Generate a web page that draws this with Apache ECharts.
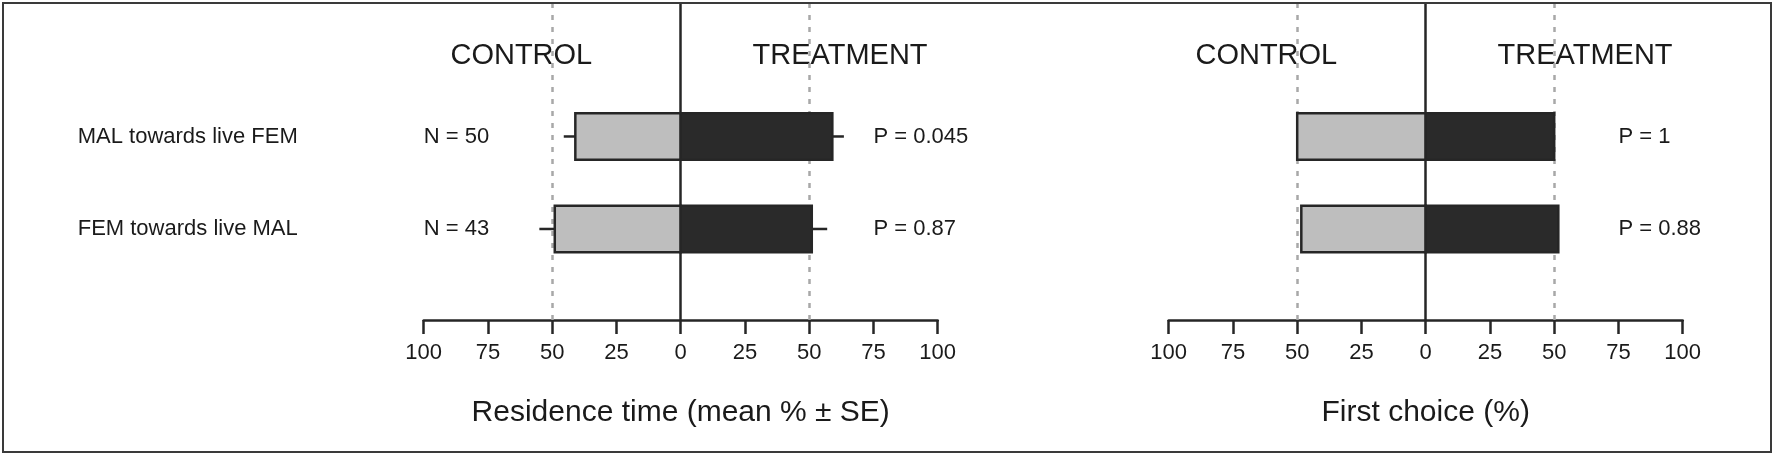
<!DOCTYPE html>
<html><head><meta charset="utf-8">
<script src="https://cdn.jsdelivr.net/npm/echarts@6/dist/echarts.min.js"></script>
<style>html,body{margin:0;padding:0;background:#fff}#c{width:1775px;height:456px}</style>
</head><body><div id="c"></div>
<script>
const rows = ['MAL towards live FEM', 'FEM towards live MAL'];
const nLabels = ['N = 50', 'N = 43'];
const residenceControl = [41, 49];
const residenceTreatment = [59, 51];
const residenceControlSE = [4.5, 6];
const residenceTreatmentSE = [4.5, 6];
const residenceP = ['P = 0.045', 'P = 0.87'];
const choiceControl = [50, 48.4];
const choiceTreatment = [50, 51.6];
const choiceP = ['P = 1', 'P = 0.88'];
const axisTicks = [-100, -75, -50, -25, 0, 25, 50, 75, 100];
const sideTitles = ['CONTROL', 'TREATMENT'];
const axisTitles = ['Residence time (mean % \u00b1 SE)', 'First choice (%)'];
const refLines = [-50, 0, 50];

const FONT = "'Liberation Sans', Arial, Helvetica, sans-serif";
const INK = '#262626';
const TXT = '#1a1a1a';

const chart = echarts.init(document.getElementById('c'), null, {renderer: 'canvas'});

function xAxisFor(gi) {
  return {
    type: 'value', gridIndex: gi, min: -100, max: 100, interval: 25,
    axisLine: {show: true, onZero: false, lineStyle: {color: INK, width: 2.5}},
    axisTick: {show: true, length: 14, lineStyle: {color: INK, width: 2.5}},
    axisLabel: {show: true, margin: 22, fontSize: 22, color: TXT, fontFamily: FONT,
      formatter: v => String(Math.abs(v))},
    splitLine: {show: false},
    name: axisTitles[gi], nameLocation: 'middle', nameGap: 78,
    nameTextStyle: {fontSize: 30, color: TXT, fontFamily: FONT}
  };
}
function yAxisFor(gi) {
  return {
    type: 'value', gridIndex: gi, inverse: true, min: -0.443, max: 2.984,
    axisLine: {show: false}, axisTick: {show: false}, splitLine: {show: false},
    axisLabel: gi === 0 ? {
      show: true, customValues: [1, 2], align: 'left', margin: 346,
      fontSize: 22, color: TXT, fontFamily: FONT,
      formatter: v => rows[Math.round(v) - 1] || ''
    } : {show: false}
  };
}

function barItem(params, api) {
  const row = api.value(0), c = api.value(1), t = api.value(2), sc = api.value(3), st = api.value(4);
  const h = 0.252;
  const a = api.coord([0, row - h]), b = api.coord([0, row + h]);
  const top = Math.min(a[1], b[1]), bot = Math.max(a[1], b[1]);
  const zero = a[0];
  const mid = api.coord([0, row])[1];
  const cx = api.coord([-c, row])[0];
  const tx = api.coord([t, row])[0];
  const children = [];
  if (sc > 0) {
    const ex = api.coord([-(c + sc), row])[0];
    children.push({type: 'line', shape: {x1: ex, y1: mid, x2: cx, y2: mid}, style: {stroke: INK, lineWidth: 2.5}});
  }
  if (st > 0) {
    const ex = api.coord([t + st, row])[0];
    children.push({type: 'line', shape: {x1: tx, y1: mid, x2: ex, y2: mid}, style: {stroke: INK, lineWidth: 2.5}});
  }
  children.push({type: 'rect', shape: {x: cx, y: top, width: zero - cx, height: bot - top},
    style: {fill: '#bebebe', stroke: INK, lineWidth: 2.5}});
  children.push({type: 'rect', shape: {x: zero, y: top, width: tx - zero, height: bot - top},
    style: {fill: '#2a2a2a', stroke: INK, lineWidth: 2.5}});
  return {type: 'group', children};
}

function textItem(params, api) {
  const p = api.coord([api.value(0), api.value(1)]);
  return {type: 'text', x: p[0], y: p[1],
    style: {text: api.value(2), fontSize: 22, fontFamily: FONT, fill: TXT, align: 'left', verticalAlign: 'middle'}};
}

function refLineSeries(gi) {
  return {
    type: 'line', xAxisIndex: gi, yAxisIndex: gi, data: [], z: 1, silent: true,
    markLine: {
      z: 1, zlevel: 0,
      symbol: 'none', silent: true, animation: false, label: {show: false},
      data: refLines.map(v => ({
        xAxis: v,
        lineStyle: v === 0 ? {color: INK, width: 2.5, type: 'solid'} : {color: '#a8a8a8', width: 2.5, type: [5, 7]}
      }))
    }
  };
}

const option = {
  animation: false,
  backgroundColor: '#ffffff',
  grid: [
    {left: 423.7, width: 514, top: 3, height: 317},
    {left: 1168.7, width: 514, top: 3, height: 317}
  ],
  xAxis: [xAxisFor(0), xAxisFor(1)],
  yAxis: [yAxisFor(0), yAxisFor(1)],
  series: [
    refLineSeries(0),
    refLineSeries(1),
    {
      type: 'custom', xAxisIndex: 0, yAxisIndex: 0, z: 6, renderItem: barItem,
      data: rows.map((r, i) => [i + 1, residenceControl[i], residenceTreatment[i], residenceControlSE[i], residenceTreatmentSE[i]])
    },
    {
      type: 'custom', xAxisIndex: 1, yAxisIndex: 1, z: 6, renderItem: barItem,
      data: rows.map((r, i) => [i + 1, choiceControl[i], choiceTreatment[i], 0, 0])
    },
    {
      type: 'custom', xAxisIndex: 0, yAxisIndex: 0, z: 7, renderItem: textItem,
      data: rows.map((r, i) => [-100, i + 1, nLabels[i]]).concat(rows.map((r, i) => [75, i + 1, residenceP[i]]))
    },
    {
      type: 'custom', xAxisIndex: 1, yAxisIndex: 1, z: 7, renderItem: textItem,
      data: rows.map((r, i) => [75, i + 1, choiceP[i]])
    }
  ]
};
chart.setOption(option);

const titles = [];
[0, 1].forEach(gi => {
  [-62, 62].forEach((v, k) => {
    const px = chart.convertToPixel({gridIndex: gi}, [v, 1]);
    titles.push({type: 'text', x: px[0], y: 56,
      style: {text: sideTitles[k], fontSize: 29, fontFamily: FONT, fill: TXT, align: 'center', verticalAlign: 'middle'}});
  });
});
titles.push({type: 'rect', shape: {x: 3, y: 3, width: 1768, height: 449},
  style: {fill: 'none', stroke: '#3a3a3a', lineWidth: 2}, z: 10});
chart.setOption({graphic: titles});
</script>
</body></html>
